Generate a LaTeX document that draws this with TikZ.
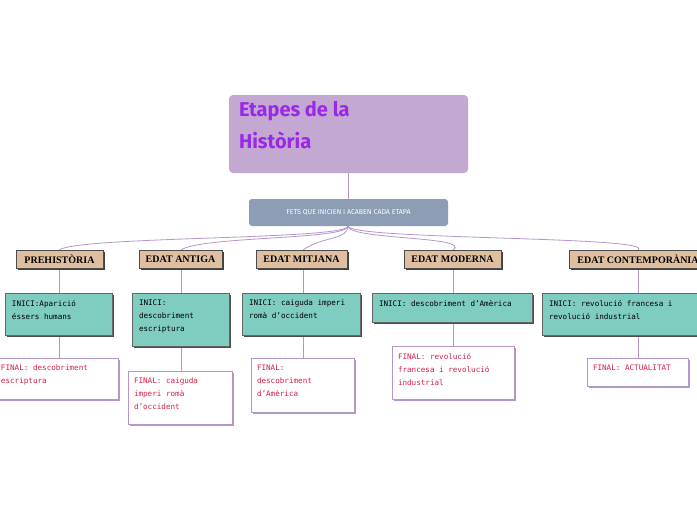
\documentclass[tikz,border=0pt]{standalone}
\usepackage{fontspec}
\setmainfont{DejaVu Sans Mono}
\newfontfamily\headf{Liberation Serif}
\newfontfamily\titf{Fira Sans}
\definecolor{tan}{HTML}{E0BFA0}
\definecolor{teal}{HTML}{7FCDC0}
\definecolor{lil}{HTML}{C3A8D1}
\definecolor{tpurp}{HTML}{9B27E8}
\definecolor{grayb}{HTML}{8C9DB5}
\definecolor{linec}{HTML}{B596CC}
\definecolor{redt}{HTML}{D6204A}
\begin{document}
\begin{tikzpicture}[x=1pt,y=-1pt,
 box/.style={anchor=north west,inner sep=0pt,outer sep=0pt},
 conn/.style={draw=linec,line width=0.8pt}]
\useasboundingbox[fill=white] (0,0) rectangle (697,520);
% title
\fill[lil,rounded corners=4pt] (229,95) rectangle (468,173);
\node[box,text=tpurp,font=\titf\bfseries\fontsize{20}{32}\selectfont,align=left] (title) at (239,101) {Etapes de la\\Història};
\coordinate (tb) at (348,173);
\fill[grayb,rounded corners=3pt] (249,199) rectangle (448,226);
\node[text=white,font=\titf\fontsize{7}{8}\selectfont] (sub) at (348.5,212.5) {FETS QUE INICIEN I ACABEN CADA ETAPA};
\coordinate (st) at (348,199);
\coordinate (sb) at (348,226);
\draw[conn] (tb) -- (st);
\newcommand\headbox[6]{%
 \fill[black!75] (#2+2,#3+2) rectangle (#4+2,#5+2);
 \filldraw[fill=tan,draw=black!70,line width=0.6pt] (#2,#3) rectangle (#4,#5);
 \node[font=\headf\bfseries\fontsize{10}{12}\selectfont] (#1) at ({(#2+#4)/2},{(#3+#5)/2}) {#6};}
\newcommand\inibox[6]{%
 \fill[black!70] (#2+2,#3+2) rectangle (#4+2,#5+2);
 \filldraw[fill=teal,draw=black!60,line width=0.5pt] (#2,#3) rectangle (#4,#5);
 \node[box,font=\fontsize{7.6}{13}\selectfont,align=left] (#1) at (#2+7,#3+7) {#6};}
\newcommand\finbox[6]{%
 \fill[linec] (#2+2,#3+2) rectangle (#4+2,#5+2);
 \filldraw[fill=white,draw=linec,line width=0.6pt] (#2,#3) rectangle (#4,#5);
 \node[box,text=redt,font=\fontsize{7.6}{13}\selectfont,align=left] (#1) at (#2+6,#3+7) {#6};}
\foreach \x in {59,181,303,453,638}{
 \draw[conn] (sb) .. controls (348,240) and (\x+20,236) .. (\x,250);}
\foreach \x/\a/\b/\c in {59/268/293/335,181/268/293/346,303/268/293/335,453/268/293/322,638/268/293/335}{
 \draw[conn] (\x,\a) -- (\x,\b) (\x,\c) -- (\x,\c+30);}
\headbox{h1}{16}{250}{103}{268}{PREHISTÒRIA}
\headbox{h2}{139}{250}{222}{268}{EDAT ANTIGA}
\headbox{h3}{256}{250}{347}{268}{EDAT MITJANA}
\headbox{h4}{404}{250}{501}{268}{EDAT MODERNA}
\headbox{h5}{569}{250}{707}{268}{EDAT CONTEMPORÀNIA}
\inibox{i1}{5}{293}{112}{335}{INICI:Aparició\\éssers humans}
\inibox{i2}{132}{293}{229}{346}{INICI:\\descobriment\\escriptura}
\inibox{i3}{242}{293}{360}{335}{INICI: caiguda imperi\\romà d'occident}
\inibox{i4}{372}{293}{532}{322}{INICI: descobriment d'Amèrica}
\inibox{i5}{542}{293}{707}{335}{INICI: revolució francesa i\\revolució industrial}
\finbox{f1}{-5}{358}{118}{399}{FINAL: descobriment\\escriptura}
\finbox{f2}{128}{371}{232}{424}{FINAL: caiguda\\imperi romà\\d'occident}
\finbox{f3}{251}{358}{354}{412}{FINAL:\\descobriment\\d'Amèrica}
\finbox{f4}{392}{346}{514}{399}{FINAL: revolució\\francesa i revolució\\industrial}
\finbox{f5}{587}{358}{688}{386}{FINAL: ACTUALITAT}
\end{tikzpicture}
\end{document}
